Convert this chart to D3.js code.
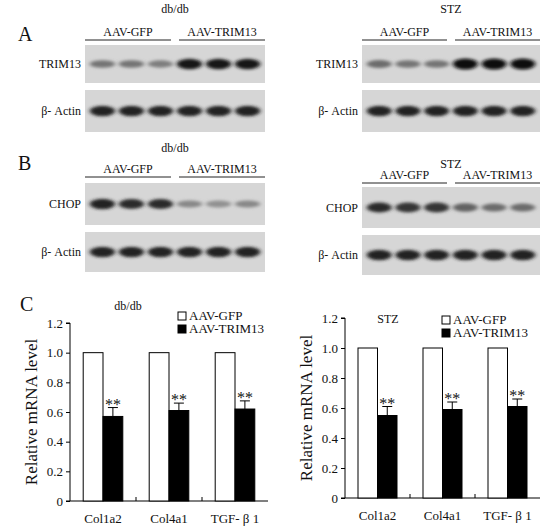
<!DOCTYPE html>
<html><head><meta charset="utf-8">
<script src="https://d3js.org/d3.v7.min.js"></script>
<style>body{margin:0;background:#fff}text{font-family:"Liberation Serif",serif;fill:#111}</style>
</head><body><div id="c"></div>
<script>
// data
var genes = ["Col1a2", "Col4a1", "TGF- β 1"];
var dbGfp = [1, 1, 1];
var dbTrim = [0.57, 0.61, 0.62];
var dbErr = [0.06, 0.05, 0.055];
var stzGfp = [1, 1, 1];
var stzTrim = [0.55, 0.59, 0.61];
var stzErr = [0.06, 0.05, 0.05];
var yTicks = [0, 0.2, 0.4, 0.6, 0.8, 1.0, 1.2];
// blot band intensities (6 lanes: 3 GFP, 3 TRIM13)
var trimDb = [0.45, 0.45, 0.4, 0.95, 0.95, 0.95];
var trimStz = [0.5, 0.45, 0.45, 1, 1, 1];
var chopDb = [0.9, 0.85, 0.85, 0.35, 0.3, 0.35];
var chopStz = [0.85, 0.8, 0.8, 0.55, 0.5, 0.5];
var actin = [0.9, 0.9, 0.9, 0.9, 0.9, 0.9];

var svg = d3.select("#c").append("svg").attr("width", 551).attr("height", 532);
var defs = svg.append("defs");
defs.append("filter").attr("id", "blur").attr("x", "-30%").attr("y", "-100%").attr("width", "160%").attr("height", "300%")
    .append("feGaussianBlur").attr("stdDeviation", "2.2 1.6");

function blot(x0, x1, y0, y1, vals, label) {
    svg.append("rect").attr("x", x0).attr("y", y0).attr("width", x1 - x0).attr("height", y1 - y0).attr("fill", "#d6d6d6");
    var lanes = d3.scaleBand().domain(d3.range(6)).range([x0, x1]).padding(0.2);
    svg.selectAll(null).data(vals).enter().append("ellipse")
        .attr("cx", (d, i) => lanes(i) + lanes.bandwidth() / 2)
        .attr("cy", (y0 + y1) / 2)
        .attr("rx", lanes.bandwidth() / 2 + 1)
        .attr("ry", d => 2.5 + d * 3)
        .attr("fill", d => { var v = Math.round(200 - d * 185); return "rgb(" + v + "," + v + "," + v + ")"; })
        .attr("filter", "url(#blur)");
    svg.append("text").attr("x", x0 - 4).attr("y", (y0 + y1) / 2 + 4).attr("text-anchor", "end").attr("font-size", 12).text(label);
}
function header(x0, x1, y, title, ty) {
    var mid = (x0 + x1) / 2;
    svg.append("text").attr("x", (x0 + x1) / 2).attr("y", ty).attr("text-anchor", "middle").attr("font-size", 12).text(title);
    [["AAV-GFP", x0, mid - 4], ["AAV-TRIM13", mid + 4, x1]].forEach(function (g) {
        svg.append("line").attr("x1", g[1]).attr("x2", g[2]).attr("y1", y).attr("y2", y).attr("stroke", "#222");
        svg.append("text").attr("x", (g[1] + g[2]) / 2).attr("y", y - 4).attr("text-anchor", "middle").attr("font-size", 12).text(g[0]);
    });
}
function letter(t, x, y) {
    svg.append("text").attr("x", x).attr("y", y).attr("font-size", 20).text(t);
}

// panel A
letter("A", 18, 41);
header(85, 265, 40, "db/db", 13);
blot(85, 265, 45, 83, trimDb, "TRIM13");
blot(85, 265, 90, 132, actin, "β- Actin");
header(362, 540, 40, "STZ", 13);
blot(362, 540, 45, 83, trimStz, "TRIM13");
blot(362, 540, 90, 132, actin, "β- Actin");

// panel B
letter("B", 18, 170);
header(85, 265, 177, "db/db", 152);
blot(85, 265, 183, 225, chopDb, "CHOP");
blot(85, 265, 232, 272, actin, "β- Actin");
header(362, 540, 183, "STZ", 168);
blot(362, 540, 187, 228, chopStz, "CHOP");
blot(362, 540, 235, 275, actin, "β- Actin");

// panel C
letter("C", 20, 311);
function barChart(ax, x1, y0, y1, gfp, trim, err, title, tx, ty, lx, ly) {
    var y = d3.scaleLinear().domain([0, 1.2]).range([y0, y1]);
    var x = d3.scaleBand().domain(genes).range([ax, x1]).paddingInner(0.4).paddingOuter(0.2);
    var g = svg.append("g");
    g.append("g").attr("transform", "translate(" + ax + ",0)")
        .call(d3.axisLeft(y).tickValues(yTicks).tickSize(4).tickFormat(d => d === 0 ? "0" : d3.format(".1f")(d)))
        .call(s => s.selectAll("text").attr("font-size", 13).attr("font-family", "Liberation Serif"))
        .call(s => s.select(".domain").attr("d", "M-4," + y0 + "H0V" + y1 + "H-4"));
    g.append("line").attr("x1", ax).attr("x2", x1).attr("y1", y0).attr("y2", y0).attr("stroke", "#000");
    var step = x.step();
    [1, 2].forEach(function (i) {
        var tx0 = x(genes[i]) - step * 0.2;
        g.append("line").attr("x1", tx0).attr("x2", tx0).attr("y1", y0).attr("y2", y0 - 4).attr("stroke", "#000");
    });
    var bw = x.bandwidth() / 2;
    genes.forEach(function (gn, i) {
        g.append("rect").attr("x", x(gn)).attr("y", y(gfp[i])).attr("width", bw).attr("height", y0 - y(gfp[i])).attr("fill", "#fff").attr("stroke", "#000");
        var cx = x(gn) + bw * 1.5;
        g.append("line").attr("x1", cx).attr("x2", cx).attr("y1", y(trim[i])).attr("y2", y(trim[i] + err[i])).attr("stroke", "#000");
        g.append("line").attr("x1", cx - 5).attr("x2", cx + 5).attr("y1", y(trim[i] + err[i])).attr("y2", y(trim[i] + err[i])).attr("stroke", "#000");
        g.append("rect").attr("x", x(gn) + bw).attr("y", y(trim[i])).attr("width", bw).attr("height", y0 - y(trim[i])).attr("fill", "#000").attr("stroke", "#000");
        g.append("text").attr("x", cx).attr("y", y(trim[i] + err[i]) + 2).attr("text-anchor", "middle").attr("font-size", 16).text("**");
        g.append("text").attr("x", x(gn) + bw).attr("y", y0 + 22).attr("text-anchor", "middle").attr("font-size", 13).text(gn);
    });
    g.append("text").attr("x", tx).attr("y", ty).attr("text-anchor", "middle").attr("font-size", 12).text(title);
    [["AAV-GFP", "#fff"], ["AAV-TRIM13", "#000"]].forEach(function (l, i) {
        g.append("rect").attr("x", lx).attr("y", ly + i * 13 - 8).attr("width", 8).attr("height", 8).attr("fill", l[1]).attr("stroke", "#000");
        g.append("text").attr("x", lx + 11).attr("y", ly + i * 13).attr("font-size", 13).text(l[0]);
    });
    g.append("text").attr("transform", "translate(" + (ax - 33) + "," + ((y0 + y1) / 2) + ") rotate(-90)")
        .attr("text-anchor", "middle").attr("font-size", 17).text("Relative mRNA level");
}
barChart(70, 268, 501, 323, dbGfp, dbTrim, dbErr, "db/db", 128, 310, 178, 320);
barChart(345, 540, 498, 318, stzGfp, stzTrim, stzErr, "STZ", 388, 323, 442, 324);
</script></body></html>
